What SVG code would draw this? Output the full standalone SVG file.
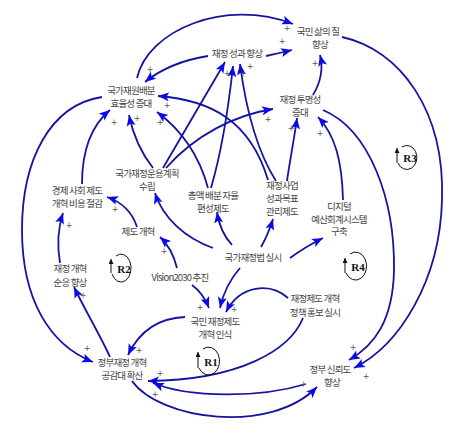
<svg xmlns="http://www.w3.org/2000/svg" width="474" height="436" viewBox="0 0 474 436">
<style>
.lbl{font-family:"Noto Sans CJK KR","Noto Sans",sans-serif;font-size:9.5px;fill:#444;text-anchor:middle;letter-spacing:-0.8px}
.c{fill:none;stroke:#1414a0;stroke-width:1.8;marker-end:url(#ah)}
.p{font-family:"DejaVu Sans",sans-serif;font-size:8px;fill:#555;text-anchor:middle}
.loop{fill:none;stroke:#111;stroke-width:1}
.rt{font-family:"Liberation Serif",serif;font-size:11px;font-weight:bold;fill:#111;text-anchor:middle}
</style>
<defs>
<marker id="ah" markerUnits="userSpaceOnUse" markerWidth="12" markerHeight="10" refX="11" refY="4.5" orient="auto">
<path d="M0,0 L11,4.5 L0,9 L2.5,4.5 Z" fill="#0a0ae6"/>
</marker>
<marker id="sa" markerUnits="userSpaceOnUse" markerWidth="6" markerHeight="6" refX="5" refY="2.5" orient="auto">
<path d="M0,0 L5,2.5 L0,5 Z" fill="#111"/>
</marker>
</defs>
<rect width="474" height="436" fill="#fff"/>
<g id="connectors">
<path class="c" d="M137,78 C148,30 225,-2 293,24"/>
<path class="c" d="M266,56 Q280,53 292,50"/>
<path class="c" d="M208,56 Q170,62 145,82"/>
<path class="c" d="M313,95 Q325,75 320,55"/>
<path class="c" d="M342,37 C400,50 445,110 442,200 C440,280 400,345 354,368"/>
<path class="c" d="M323,110 C370,130 395,200 394,270 C393,320 375,345 349,360"/>
<path class="c" d="M343,200 C342,160 335,135 318,117"/>
<path class="c" d="M287,181 C290,160 294,140 297,118"/>
<path class="c" d="M276,181 Q250,140 240,64"/>
<path class="c" d="M211,188 Q225,140 233,66"/>
<path class="c" d="M163,168 L225,62"/>
<path class="c" d="M166,168 C195,135 235,115 273,109"/>
<path class="c" d="M153,168 Q135,145 129,115"/>
<path class="c" d="M208,188 Q195,140 157,112"/>
<path class="c" d="M268,180 C250,120 210,100 158,96"/>
<path class="c" d="M82,184 C82,150 92,125 110,110"/>
<path class="c" d="M102,97 C50,105 22,160 22,230 C22,300 50,345 93,362"/>
<path class="c" d="M137,227 Q130,205 107,197"/>
<path class="c" d="M60,263 C57,245 58,228 63,213"/>
<path class="c" d="M177,268 Q172,248 160,237"/>
<path class="c" d="M213,248 C185,238 163,218 155,193"/>
<path class="c" d="M232,245 Q220,232 217,212"/>
<path class="c" d="M261,247 Q268,235 273,219"/>
<path class="c" d="M290,258 Q305,247 323,238"/>
<path class="c" d="M240,268 Q225,285 220,308"/>
<path class="c" d="M192,285 Q203,293 209,308"/>
<path class="c" d="M288,298 C270,282 240,285 226,312"/>
<path class="c" d="M185,317 C160,318 140,330 128,355"/>
<path class="c" d="M110,357 C100,335 85,310 74,287"/>
<path class="c" d="M303,318 C290,350 240,380 148,381"/>
<path class="c" d="M306,384 C260,398 190,398 153,383"/>
<path class="c" d="M132,381 C160,420 270,435 317,387"/>
</g>
<g id="polarities">
<text class="p" x="150" y="72">+</text>
<text class="p" x="114" y="125">+</text>
<text class="p" x="137" y="121">+</text>
<text class="p" x="160" y="125">+</text>
<text class="p" x="167" y="108">+</text>
<text class="p" x="287" y="31">+</text>
<text class="p" x="282" y="44">+</text>
<text class="p" x="227" y="76">+</text>
<text class="p" x="243" y="76">+</text>
<text class="p" x="250" y="69">+</text>
<text class="p" x="315" y="66">+</text>
<text class="p" x="268" y="122">+</text>
<text class="p" x="291" y="131">+</text>
<text class="p" x="320" y="136">+</text>
<text class="p" x="115" y="212">+</text>
<text class="p" x="69" y="228">+</text>
<text class="p" x="164" y="254">+</text>
<text class="p" x="87" y="351">+</text>
<text class="p" x="139" y="353">+</text>
<text class="p" x="83" y="298">+</text>
<text class="p" x="200" y="310">+</text>
<text class="p" x="234" y="312">+</text>
<text class="p" x="160" y="376">+</text>
<text class="p" x="155" y="397">+</text>
<text class="p" x="353" y="350">+</text>
<text class="p" x="366" y="379">+</text>
<text class="p" x="303" y="387">+</text>
</g>
<g id="n_qol"><text class="lbl" x="318" y="35">국민 삶의 질<tspan x="320" dy="12.5">향상</tspan></text></g>
<g id="n_perf"><text class="lbl" x="237" y="57">재정 성과 향상</text></g>
<g id="n_alloc"><text class="lbl" x="131" y="94">국가재원배분<tspan x="131" dy="12.5">효율성 증대</tspan></text></g>
<g id="n_trans"><text class="lbl" x="300" y="103">재정 투명성<tspan x="300" dy="12.5">증대</tspan></text></g>
<g id="n_plan"><text class="lbl" x="147" y="177">국가재정운용계획<tspan x="147" dy="12.5">수립</tspan></text></g>
<g id="n_econ"><text class="lbl" x="77" y="194">경제 사회 제도<tspan x="77" dy="13">개혁 비용 절감</tspan></text></g>
<g id="n_total"><text class="lbl" x="213" y="199">총액 배분 자율<tspan x="213" dy="12.5">편성제도</tspan></text></g>
<g id="n_proj"><text class="lbl" x="282" y="189">재정사업<tspan x="282" dy="13">성과목표</tspan><tspan x="282" dy="13">관리제도</tspan></text></g>
<g id="n_digital"><text class="lbl" x="339" y="210">디지털<tspan x="339" dy="12.5">예산회계시스템</tspan><tspan x="339" dy="12.5">구축</tspan></text></g>
<g id="n_reform"><text class="lbl" x="138" y="235">제도 개혁</text></g>
<g id="n_law"><text class="lbl" x="253" y="261">국가재정법 실시</text></g>
<g id="n_vision"><text class="lbl" x="180" y="281">Vision2030 추진</text></g>
<g id="n_comply"><text class="lbl" x="70" y="272">재정 개혁<tspan x="70" dy="13.5">순응 향상</tspan></text></g>
<g id="n_aware"><text class="lbl" x="215" y="325">국민 재정제도<tspan x="215" dy="12.5">개혁 인식</tspan></text></g>
<g id="n_promo"><text class="lbl" x="315" y="302">재정제도 개혁<tspan x="315" dy="13.5">정책 홍보 실시</tspan></text></g>
<g id="n_consensus"><text class="lbl" x="122" y="366">정부재정 개혁<tspan x="122" dy="12.5">공감대 확산</tspan></text></g>
<g id="n_trust"><text class="lbl" x="330" y="373">정부 신뢰도<tspan x="332" dy="12.5">향상</tspan></text></g>
<g id="loops">
<g id="R1"><path class="loop" d="M199,368 A11,14 0 1 0 203,349"/><path class="loop" d="M198,368 L198,352" marker-end="url(#sa)"/><text class="rt" x="211" y="366">R1</text></g>
<g id="R2"><path class="loop" d="M112,274 A10,14 0 1 0 116,256"/><path class="loop" d="M111,273 L111,259" marker-end="url(#sa)"/><text class="rt" x="124" y="273">R2</text></g>
<g id="R3"><path class="loop" d="M398,163 A10,12 0 1 0 402,147"/><path class="loop" d="M397,163 L397,148" marker-end="url(#sa)"/><text class="rt" x="410" y="162">R3</text></g>
<g id="R4"><path class="loop" d="M346,273 A11,14 0 1 0 350,254"/><path class="loop" d="M345,273 L345,258" marker-end="url(#sa)"/><text class="rt" x="358" y="271">R4</text></g>
</g>
</svg>
